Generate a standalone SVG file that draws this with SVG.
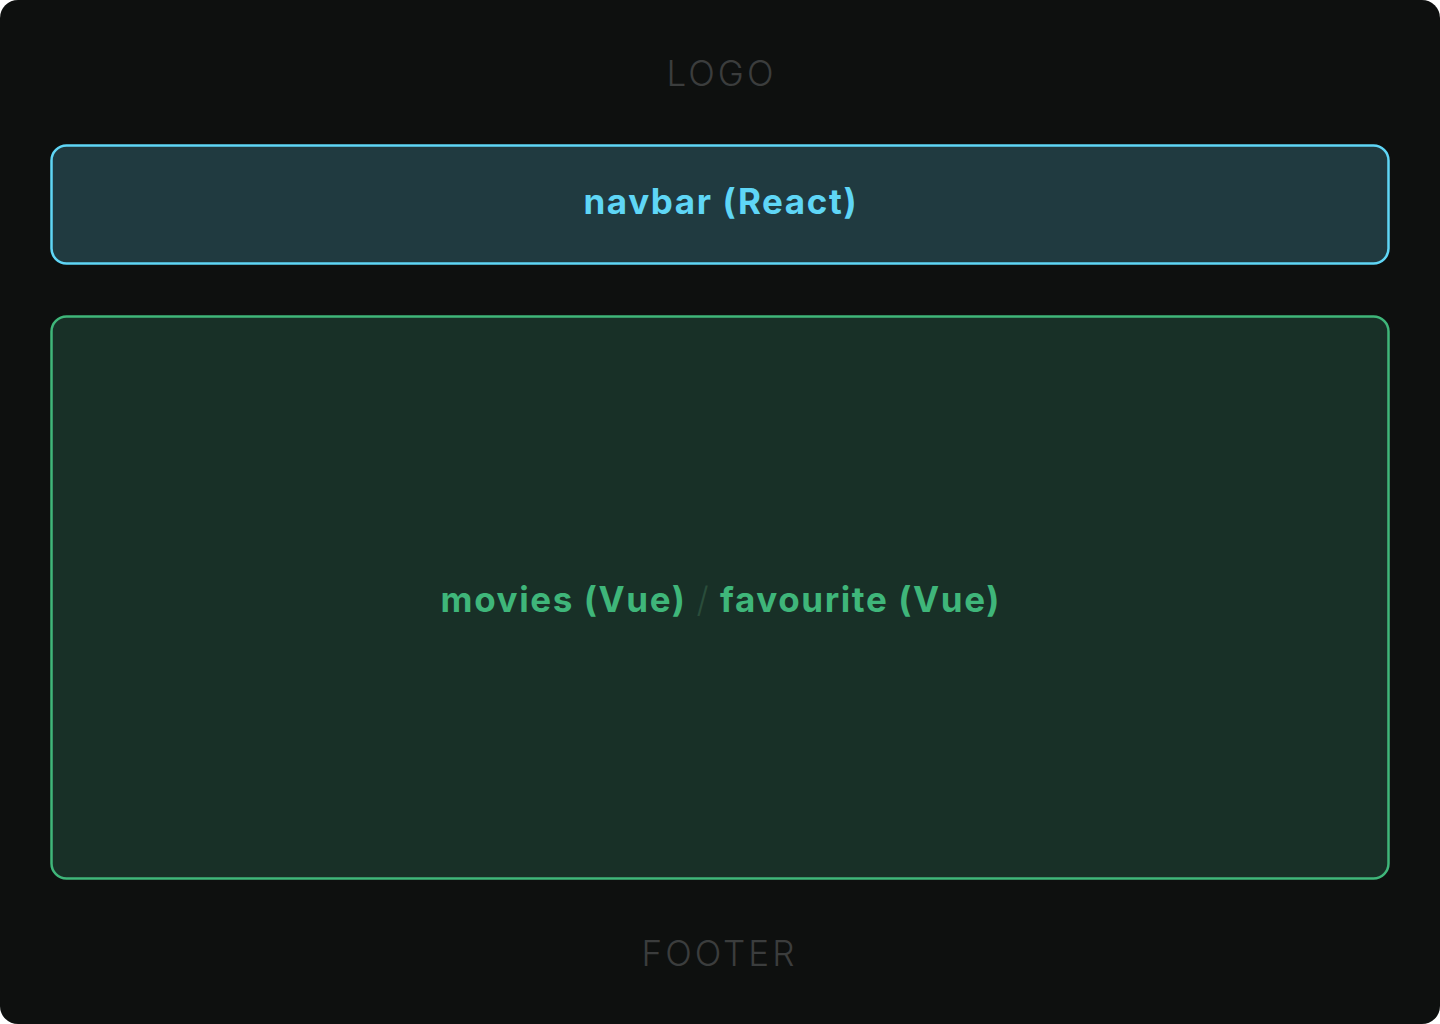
<svg xmlns="http://www.w3.org/2000/svg" width="1440" height="1024" viewBox="0 0 1440 1024">
<style>
.lbl{font-family:Inter,"Noto Sans",sans-serif;text-anchor:middle}
.dim{font-weight:300;font-size:35px;fill:#3b3d3d;letter-spacing:3px}
.bold{font-weight:700;font-size:35px;letter-spacing:1.6px}
</style>
<rect x="0" y="0" width="1440" height="1024" fill="#ffffff"/>
<rect x="0" y="0" width="1440" height="1024" rx="18" fill="#0e100f"/>
<g id="logo"><text class="lbl dim" x="721.5" y="86">LOGO</text></g>
<g id="navbar">
<rect x="51.5" y="145.5" width="1337" height="118" rx="15" fill="#203a40" stroke="#5fd6f6" stroke-width="2.5"/>
<text class="lbl bold" x="720.8" y="214" fill="#5fd6f6">navbar (React)</text>
</g>
<g id="content">
<rect x="51.5" y="316.5" width="1337" height="562" rx="15" fill="#183027" stroke="#3fb67a" stroke-width="2.5"/>
<text class="lbl bold" x="720.8" y="612" fill="#3fb67a">movies (Vue) <tspan fill="#2a4d3b" font-weight="300">/</tspan> favourite (Vue)</text>
</g>
<g id="footer"><text class="lbl dim" x="719.5" y="966">FOOTER</text></g>
<g id="connectors"/>
</svg>
